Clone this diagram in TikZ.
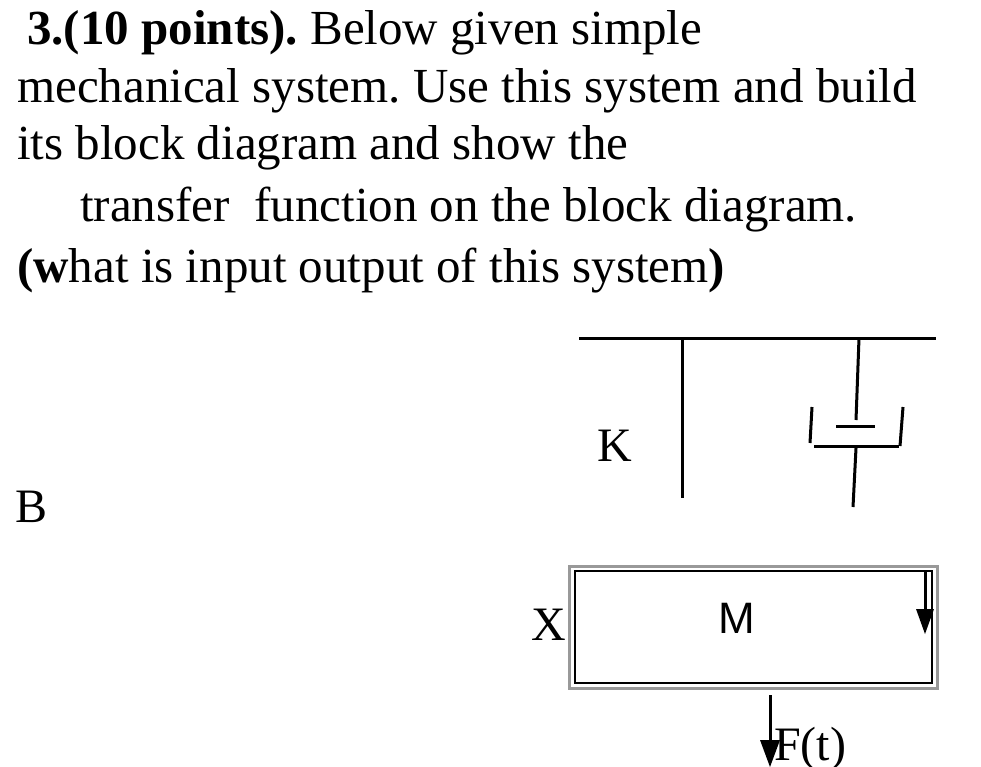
\documentclass[tikz,border=0pt]{standalone}
\usepackage{fontspec}
\setmainfont{Liberation Serif}
\setsansfont{Liberation Sans}
\frenchspacing
\begin{document}
\begin{tikzpicture}[x=1pt,y=-1pt,
  txt/.style={anchor=base west,inner sep=0,font=\fontsize{49}{56}\selectfont},
  lbl/.style={inner sep=0,font=\fontsize{48}{56}\selectfont},
  ln/.style={line width=3pt}]
\useasboundingbox (0,0) rectangle (981,767);
\fill[white] (0,0) rectangle (981,767);
\node[txt] (l1) at (27,45) {\textbf{3.(10 points).} Below given simple};
\node[txt] (l2) at (17,103) {mechanical system. Use this system and build};
\node[txt] (l3) at (17,160) {its block diagram and show the};
\node[txt] (l4) at (80,222) {transfer\ \ function on the block diagram.};
\node[txt] (l5) at (17,282) {\textbf{(w}hat is input output of this system\textbf{)}};
\node[lbl] (B) at (32,507) {B};
\node[lbl] (K) at (615,446) {K};
\node[lbl] (X) at (549,625) {X};
\draw[ln] (579,338) -- (936,338);
\draw[ln] (682,338) -- (682,498);
\draw[ln] (859,338) -- (856,420);
\draw[ln] (836,426) -- (875,426);
\draw[ln] (812,407) -- (810,443);
\draw[ln] (903,407) -- (900,446);
\draw[ln] (814,446) -- (899,446);
\draw[ln] (856,448) -- (853,507);
\node[draw=gray!80,line width=3pt,minimum width=368,minimum height=122,inner sep=0] (box) at (753,627) {};
\draw[line width=1.6pt] (575,571) rectangle (932,683);
\node[inner sep=0,font=\sffamily\fontsize{44}{50}\selectfont] (M) at (737,618) {M};
\draw[line width=3pt] (925,572) -- (925,612);
\fill (916,609) -- (934,609) -- (925,634) -- cycle;
\draw[line width=3pt] (770,695) -- (770,745);
\fill (760,740) -- (780,740) -- (770,767) -- cycle;
\node[lbl,anchor=base west] (F) at (774,760) {F(t)};
\end{tikzpicture}
\end{document}
